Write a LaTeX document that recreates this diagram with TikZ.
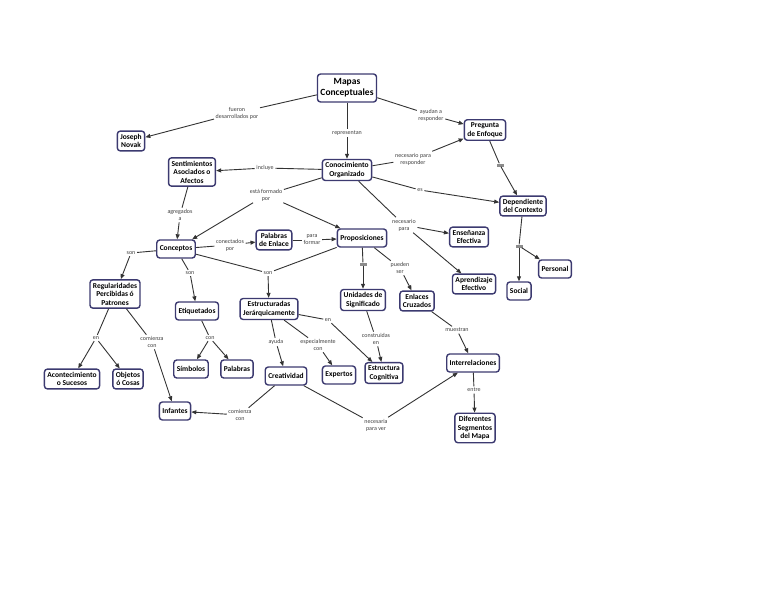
\documentclass[tikz,border=0pt]{standalone}
\usepackage{fontspec}
\setmainfont{Carlito}
\usetikzlibrary{arrows.meta}
\definecolor{bd}{HTML}{3C3A70}
\tikzset{
 cn/.style={draw=bd,line width=1.4pt,rounded corners=3pt,fill=white,align=center,font=\fontsize{7.5}{8.5}\selectfont\bfseries,inner sep=3pt,minimum height=18pt},
 lb/.style={align=center,font=\fontsize{6}{7}\selectfont,text=black!75,inner sep=1.5pt,fill=white},
 gr/.style={fill=black!45,minimum width=7pt,minimum height=3pt,inner sep=0pt},
 ln/.style={draw=black!80,line width=0.9pt},
 ar/.style={ln,-{Triangle[length=5pt,width=4pt]}}
}
\begin{document}
\begin{tikzpicture}[x=1pt,y=-1pt]
\useasboundingbox (0,0) rectangle (768,594);
\node[cn,font=\fontsize{9.5}{11}\selectfont\bfseries,minimum height=28pt] (mc) at (347,88) {Mapas\\Conceptuales};
\node[cn] (jn) at (131,141) {Joseph\\Novak};
\node[cn] (sa) at (192,172) {Sentimientos\\Asociados o\\Afectos};
\node[cn] (co) at (347,170) {Conocimiento\\Organizado};
\node[cn] (pe) at (485,130) {Pregunta\\de Enfoque};
\node[cn] (dc) at (523,206) {Dependiente\\del Contexto};
\node[cn] (cp) at (176,249) {Conceptos};
\node[cn] (pa) at (274,240) {Palabras\\de Enlace};
\node[cn] (pr) at (362,238) {Proposiciones};
\node[cn] (ee) at (469,237) {Enseñanza\\Efectiva};
\node[cn] (ae) at (474,284) {Aprendizaje\\Efectivo};
\node[cn] (ps) at (555,269) {Personal};
\node[cn] (so) at (519,291) {Social};
\node[cn] (rp) at (115,294) {Regularidades\\Percibidas ó\\Patrones};
\node[cn] (et) at (197,311) {Etiquetados};
\node[cn] (ej) at (269,309) {Estructuradas\\Jerárquicamente};
\node[cn] (us) at (363,300) {Unidades de\\Significado};
\node[cn] (ec) at (417,301) {Enlaces\\Cruzados};
\node[cn] (as) at (72,379) {Acontecimiento\\o Sucesos};
\node[cn] (oc) at (128,379) {Objetos\\ó Cosas};
\node[cn] (si) at (191,369) {Símbolos};
\node[cn] (pl) at (237,369) {Palabras};
\node[cn] (cr) at (286,376) {Creatividad};
\node[cn] (ex) at (339,375) {Expertos};
\node[cn] (ecg) at (384,373) {Estructura\\Cognitiva};
\node[cn] (ir) at (473,363) {Interrelaciones};
\node[cn] (in) at (175,411) {Infantes};
\node[cn] (ds) at (475,428) {Diferentes\\Segmentos\\del Mapa};
% labels
\node[lb] (l1) at (237,113) {fueron\\desarrollados por};
\node[lb] (l2) at (347,133) {representan};
\node[lb] (l3) at (431,115) {ayudan a\\responder};
\node[lb] (l4) at (265,168) {incluye};
\node[lb] (l5) at (413,159) {necesario para\\responder};
\node[lb] (l6) at (420,190) {es};
\node[lb] (l7) at (266,195) {está formado\\por};
\node[lb] (l8) at (180,215) {agregados\\a};
\node[lb] (l9) at (230,245) {conectados\\por};
\node[lb] (l10) at (312,240) {para\\formar};
\node[lb] (l11) at (404,225) {necesario\\para};
\node[lb] (l12) at (131,253) {son};
\node[lb] (l13) at (190,273) {son};
\node[lb] (l14) at (268,273) {son};
\node[lb] (l15) at (400,268) {pueden\\ser};
\node[gr] (g1) at (500,165) {};
\node[gr] (g2) at (363,264) {};
\node[gr] (g3) at (519,246) {};
\node[lb] (l16) at (328,320) {en};
\node[lb] (l17) at (96,338) {en};
\node[lb] (l18) at (152,342) {comienza\\con};
\node[lb] (l19) at (210,338) {con};
\node[lb] (l20) at (276,342) {ayuda};
\node[lb] (l21) at (318,345) {especialmente\\con};
\node[lb] (l22) at (376,339) {construidas\\en};
\node[lb] (l23) at (457,330) {muestran};
\node[lb] (l24) at (474,390) {entre};
\node[lb] (l25) at (240,415) {comienza\\con};
\node[lb] (l26) at (376,425) {necesaria\\para ver};
% connectors
\draw[ln] (mc)--(l1); \draw[ar] (l1)--(jn);
\draw[ln] (mc)--(l2); \draw[ar] (l2)--(co);
\draw[ln] (mc)--(l3); \draw[ar] (l3)--(pe);
\draw[ln] (co)--(l4); \draw[ar] (l4)--(sa);
\draw[ln] (co)--(l5); \draw[ar] (l5)--(pe);
\draw[ln] (co)--(l6); \draw[ar] (l6)--(dc);
\draw[ln] (co)--(l7); \draw[ar] (l7)--(cp); \draw[ar] (l7)--(pr);
\draw[ln] (sa)--(l8); \draw[ar] (l8)--(cp);
\draw[ln] (cp)--(l9); \draw[ar] (l9)--(pa);
\draw[ln] (pa)--(l10); \draw[ar] (l10)--(pr);
\draw[ln] (co)--(l11); \draw[ar] (l11)--(ee); \draw[ar] (l11)--(ae);
\draw[ln] (cp)--(l12); \draw[ar] (l12)--(rp);
\draw[ln] (cp)--(l13); \draw[ar] (l13)--(et);
\draw[ln] (cp)--(l14); \draw[ln] (pr)--(l14); \draw[ar] (l14)--(ej);
\draw[ln] (pr)--(l15); \draw[ar] (l15)--(ec);
\draw[ln] (pe)--(g1); \draw[ar] (g1)--(dc);
\draw[ln] (pr)--(g2); \draw[ar] (g2)--(us);
\draw[ln] (dc)--(g3); \draw[ar] (g3)--(so); \draw[ar] (g3)--(ps);
\draw[ln] (ej)--(l16); \draw[ar] (l16)--(ecg);
\draw[ln] (rp)--(l17); \draw[ar] (l17)--(as); \draw[ar] (l17)--(oc);
\draw[ln] (rp)--(l18); \draw[ar] (l18)--(in);
\draw[ln] (et)--(l19); \draw[ar] (l19)--(si); \draw[ar] (l19)--(pl);
\draw[ln] (ej)--(l20); \draw[ar] (l20)--(cr);
\draw[ln] (ej)--(l21); \draw[ar] (l21)--(ex);
\draw[ln] (us)--(l22); \draw[ar] (l22)--(ecg);
\draw[ln] (ec)--(l23); \draw[ar] (l23)--(ir);
\draw[ln] (ir)--(l24); \draw[ar] (l24)--(ds);
\draw[ln] (cr)--(l25); \draw[ar] (l25)--(in);
\draw[ln] (cr)--(l26); \draw[ar] (l26)--(ir);
\end{tikzpicture}
\end{document}
